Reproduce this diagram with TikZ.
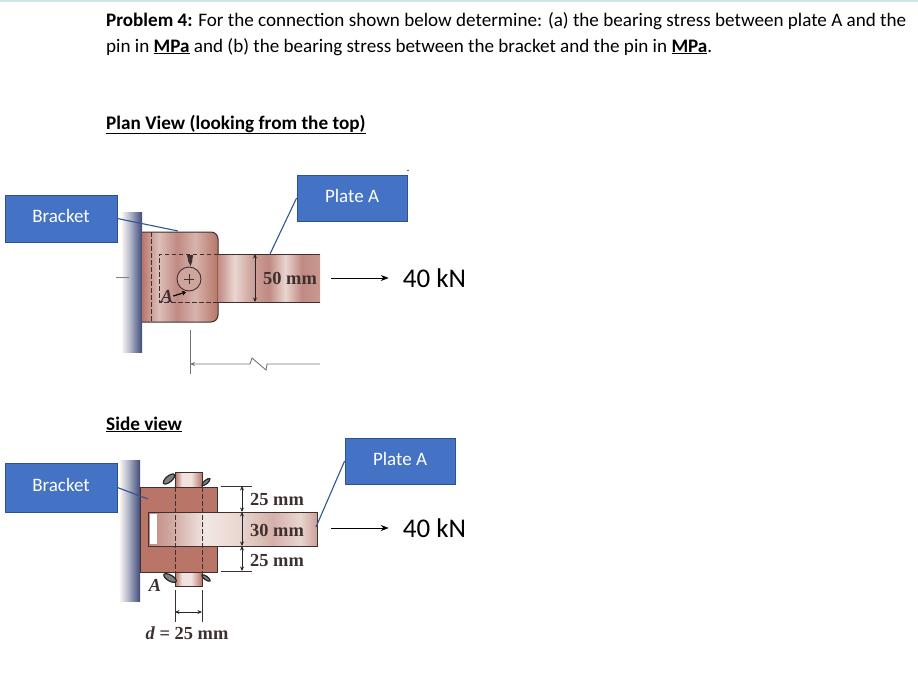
\documentclass[tikz,border=0pt]{standalone}
\usepackage{fontspec}
\setmainfont{Carlito}
\newfontfamily\figfont{Liberation Serif}
\usetikzlibrary{arrows.meta}
\definecolor{boxblue}{HTML}{4472C4}
\definecolor{boxline}{HTML}{2F528F}
\definecolor{linkblue}{HTML}{2F5597}
\definecolor{steel}{HTML}{3F4A78}
\definecolor{rosy}{HTML}{C08A82}
\definecolor{rosydark}{HTML}{B87568}
\definecolor{pale}{HTML}{E9D6D0}
\definecolor{inkline}{HTML}{3E3030}
\newcommand{\boxtext}[1]{\raisebox{2.5pt}[\height][\depth]{#1}}
\pgfdeclarehorizontalshading{wallshade}{100bp}{color(0bp)=(pale!30!white);color(25bp)=(pale!30!white);
  color(45bp)=(steel!40!white);color(75bp)=(steel);color(100bp)=(steel)}
\pgfdeclarehorizontalshading{platemottle}{100bp}{color(0bp)=(rosy);color(25bp)=(rosy);color(33bp)=(pale);
  color(42bp)=(rosy!70!pale);color(50bp)=(rosy);color(58bp)=(pale);color(66bp)=(rosy);
  color(75bp)=(rosy!80!pale);color(100bp)=(rosy)}
\pgfdeclarehorizontalshading{bracketmottle}{100bp}{color(0bp)=(rosydark);color(25bp)=(rosydark);
  color(36bp)=(pale!70!rosy);color(48bp)=(rosy);color(60bp)=(pale!55!rosy);color(75bp)=(rosydark);color(100bp)=(rosydark)}
\pgfdeclarehorizontalshading{sidemottle}{100bp}{color(0bp)=(rosy);color(25bp)=(rosy);color(32bp)=(rosy!60!pale);
  color(42bp)=(pale!60!white);color(52bp)=(pale);color(62bp)=(rosy!50!pale);color(70bp)=(pale);color(75bp)=(rosy!70!pale);color(100bp)=(rosy)}
\pgfdeclarehorizontalshading{pinshade}{100bp}{color(0bp)=(rosydark);color(25bp)=(rosydark);color(38bp)=(pale!70!white);
  color(55bp)=(pale!70!white);color(75bp)=(rosydark);color(100bp)=(rosydark)}
\tikzset{
  callout/.style={draw=boxline,fill=boxblue,text=white,font=\fontsize{19}{22}\selectfont,
    inner sep=0pt,line width=0.8pt},
  link/.style={draw=linkblue,line width=1.1pt},
  force/.style={draw=black,line width=0.7pt,-{Stealth[length=8pt,width=6pt]}},
  para/.style={anchor=base west,inner sep=0pt,font=\fontsize{19.1}{22}\selectfont},
  heading/.style={anchor=base west,inner sep=0pt,font=\fontsize{19.2}{22}\selectfont\bfseries},
  load/.style={inner sep=0pt,font=\fontsize{27}{30}\selectfont},
  dim/.style={inner sep=0pt,text=inkline,font=\figfont\bfseries\fontsize{18.4}{20}\selectfont},
  pinletter/.style={inner sep=0pt,text=inkline,font=\figfont\bfseries\itshape\fontsize{18.4}{20}\selectfont},
  dimline/.style={draw=inkline,line width=0.8pt},
  dimarrow/.style={draw=black!85,line width=0.9pt,{Stealth[length=4.5pt,width=4pt]}-{Stealth[length=4.5pt,width=4pt]}},
  hidden/.style={draw=inkline,line width=1pt,dash pattern=on 4.5pt off 2.5pt},
  cotter/.style={draw=black!85,fill=black!50,line width=1.2pt}
}
\begin{document}
\begin{tikzpicture}[x=1pt,y=-1pt]
  \useasboundingbox (0,0) rectangle (918,680);
  \fill[teal!20] (0,0) rectangle (918,1.5);
  % text
  \node[para] (line1) at (106,26) {\textbf{Problem 4:} For the connection shown below determine: (a) the bearing stress between plate A and the};
  \node[para] (line2) at (106,52) {pin in \underline{\textbf{MPa}} and (b) the bearing stress between the bracket and the pin in \underline{\textbf{MPa}}.};
  \node[heading] (plantitle) at (106,129) {\underline{Plan View (looking from the top)}};
  \node[heading] (sidetitle) at (106,430) {\underline{Side view}};
  \fill[black!70] (408,170.5) circle (0.8);
  % plan view
  \shade[shading=wallshade] (122,212) rectangle (142,352);
  \draw[dimline,draw=black!50] (116,277) -- (129,277);
  \draw[inkline,line width=1pt,shading=bracketmottle] (142,232) -- (208,232)
    [rounded corners=7pt] -- (218,232) -- (218,322) [sharp corners] -- (142,322);
  \shade[shading=platemottle] (218,254) rectangle (320,302);
  \draw[dimline] (218,254) -- (320,254) (218,302) -- (320,302);
  \draw[hidden] (218,254) -- (159,254) -- (159,302) -- (218,302);
  \draw[hidden] (151,232) -- (151,322);
  \node[circle,draw=inkline,line width=0.9pt,fill=rosy!65!pale,minimum size=24pt,inner sep=0pt] (hole) at (189,279) {};
  \draw[inkline,line width=0.5pt] (184,279) -- (194,279) (189,274) -- (189,284);
  \fill[inkline] (187,255) -- (193,255) -- (192,262) -- (190.5,266) -- (188.5,262) -- cycle;
  \node[pinletter] (pina) at (167,296) {A};
  \coordinate (pinatip) at (186,292);
  \draw[draw=black,line width=1.2pt,-{Stealth[length=4pt,width=5pt]}] (pina.east) -- (pinatip);
  \coordinate (plantop) at (255,254);
  \coordinate (planbot) at (255,302);
  \draw[dimarrow] (plantop) -- (planbot);
  \node[dim] (fifty) at (290,278) {50 mm};
  \coordinate (cuttop) at (190,330);
  \coordinate (cutbot) at (190,374);
  \draw[dimline,draw=black!55] (cuttop) -- (cutbot);
  \draw[draw=black!55,line width=0.9pt,{Stealth[length=5pt,width=4pt]}-] (190,364) -- (250,364) -- (252,358) -- (266,370) -- (267,364) -- (320,364);
  % side view
  \shade[shading=wallshade] (120,460) rectangle (140,601);
  \draw[inkline,line width=0.8pt,fill=rosydark] (140,487) rectangle (217,572);
  \draw[inkline,line width=0.8pt,shading=pinshade] (175,472) rectangle (202,487);
  \draw[inkline,line width=0.8pt,shading=pinshade] (175,572) rectangle (202,586);
  \draw[inkline,line width=0.8pt,shading=sidemottle] (148,512) rectangle (317,546);
  \fill[white] (150,513.5) rectangle (157,544);
  \draw[hidden] (175,487) -- (175,572) (202,487) -- (202,572);
  \draw[cotter,rotate around={40:(169,479)}] (169,479) ellipse (7 and 3);
  \draw[cotter,rotate around={40:(206,482)}] (206,482) ellipse (5 and 1.8);
  \draw[cotter,rotate around={-30:(170,578)}] (170,578) ellipse (7 and 3);
  \draw[cotter,rotate around={-35:(206,578)}] (206,578) ellipse (5 and 1.8);
  \node[pinletter] (sidea) at (155,585) {A};
  \coordinate (exttopl) at (221,486);
  \coordinate (exttopr) at (252,486);
  \coordinate (extbotl) at (221,571);
  \coordinate (extbotr) at (252,571);
  \draw[dimline] (exttopl) -- (exttopr) (extbotl) -- (extbotr);
  \coordinate (dimtop) at (242,486);
  \coordinate (dimup) at (242,512);
  \coordinate (dimlow) at (242,546);
  \coordinate (dimbot) at (242,571);
  \draw[dimarrow] (dimtop) -- (dimup);
  \draw[dimarrow] (dimup) -- (dimlow);
  \draw[dimarrow] (dimlow) -- (dimbot);
  \node[dim] (uppertext) at (277,499) {25 mm};
  \node[dim] (midtext) at (277,530) {30 mm};
  \node[dim] (lowertext) at (277,560) {25 mm};
  \coordinate (pinl) at (175,590);
  \coordinate (pinr) at (202,590);
  \coordinate (pinlb) at (175,622);
  \coordinate (pinrb) at (202,622);
  \draw[dimline] (pinl) -- (pinlb) (pinr) -- (pinrb);
  \draw[dimarrow] (175,612) -- (202,612);
  \node[dim] (pindia) at (187,633) {\textit{d} = 25 mm};
  % callouts
  \node[callout,minimum width=112pt,minimum height=47pt] (bracketa) at (61,218.5) {\boxtext{Bracket}};
  \node[callout,minimum width=110pt,minimum height=46pt] (platea) at (352,198) {\boxtext{Plate A}};
  \node[callout,minimum width=112pt,minimum height=49pt] (bracketb) at (61,487.5) {\boxtext{Bracket}};
  \node[callout,minimum width=110pt,minimum height=46pt] (plateb) at (400,461) {\boxtext{Plate A}};
  \coordinate (bracketatip) at (178,231);
  \coordinate (plateatip) at (270,254);
  \coordinate (bracketbtip) at (148,499);
  \coordinate (platebtip) at (316,527);
  \draw[link] (bracketa.east) -- (bracketatip);
  \draw[link] (platea.west) -- (plateatip);
  \draw[link] (bracketb.east) -- (bracketbtip);
  \draw[link] (plateb.west) -- (platebtip);
  % loads
  \node[load] (loada) at (434.5,278) {40 kN};
  \node[load] (loadb) at (434.5,528) {40 kN};
  \coordinate (starta) at (331,278);
  \coordinate (startb) at (331,528);
  \draw[force] (starta) -- ([xshift=-14pt]loada.west);
  \draw[force] (startb) -- ([xshift=-14pt]loadb.west);
\end{tikzpicture}
\end{document}
